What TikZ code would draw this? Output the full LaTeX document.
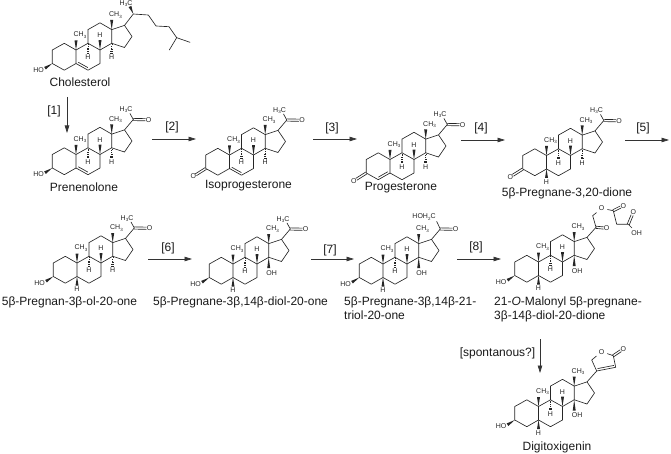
\documentclass[tikz,border=0pt]{standalone}
\usepackage{fontspec}
\setmainfont{Liberation Sans}
\usetikzlibrary{calc,arrows.meta}
\tikzset{
  bond/.style={line width=0.65pt,line cap=round,line join=round,draw=black!85},
  atom/.style={font=\fontsize{7}{8}\selectfont,inner sep=0pt,text=black!85},
  caption/.style={font=\fontsize{12}{14}\selectfont,inner sep=0pt,text=black!90},
  stepno/.style={font=\fontsize{12}{14}\selectfont,inner sep=0pt,text=black!90},
  rxn/.style={line width=0.7pt,draw=black!80,-{Triangle[length=7.5pt,width=4.5pt]}},
}
\newcommand\lowidx[1]{\raisebox{-1.2pt}{\fontsize{4.5}{5}\selectfont #1}}
% wedge and hash bonds
\newcommand\wedgeb[2]{\fill[black!85] (#1) -- ($(#2)!1.5pt!90:(#1)$) -- ($(#2)!1.5pt!-90:(#1)$) -- cycle;}
\newcommand\hashb[2]{\foreach \t in {0.12,0.28,0.44,0.60,0.76,0.92}{%
  \draw[line width=0.5pt,draw=black!85] ($(#1)!\t!(#2)!{\t*1.6pt}!90:(#2)$) -- ($(#1)!\t!(#2)!{\t*1.6pt}!-90:(#2)$);}}
% ring double bond: second line to one side
\newcommand\ringdbl[3]{\draw[bond,shorten >=1.5pt,shorten <=1.5pt] ($(#1)!2.2pt!#3:(#2)$) -- ($(#2)!2.2pt!-#3:(#1)$);}
% carbonyl: two lines from carbon to a named O node
\newcommand\carbonyl[2]{%
  \draw[bond,shorten >=3.2pt] ($(#1)!1.1pt!90:(#2)$) -- ($(#2)!1.1pt!-90:(#1)$);
  \draw[bond,shorten >=3.2pt] ($(#1)!1.1pt!-90:(#2)$) -- ($(#2)!1.1pt!90:(#1)$);}
% the four-ring skeleton
\newcommand\mol[4]{\begin{scope}[shift={(#2,#3)}]\def\P{#1}
  \coordinate (\P-c10) at (0,0);
  \coordinate (\P-c1) at (-11.7,-6.7);
  \coordinate (\P-c2) at (-23.7,0);
  \coordinate (\P-c3) at (-23.7,13.5);
  \coordinate (\P-c4) at (-11.7,20.2);
  \coordinate (\P-c5) at (0,13.5);
  \coordinate (\P-c6) at (12,20.2);
  \coordinate (\P-c7) at (24,13.5);
  \coordinate (\P-c8) at (24,0);
  \coordinate (\P-c9) at (12,-6.7);
  \coordinate (\P-c11) at (12,-20.4);
  \coordinate (\P-c12) at (24,-27.2);
  \coordinate (\P-c13) at (35.7,-20.4);
  \coordinate (\P-c14) at (35.7,-6.7);
  \coordinate (\P-c15) at (48.5,-2.5);
  \coordinate (\P-c16) at (56,-13.5);
  \coordinate (\P-c17) at (48.5,-24.6);
  \draw[bond] (\P-c10) -- (\P-c1) -- (\P-c2) -- (\P-c3) -- (\P-c4) -- (\P-c5) -- (\P-c10)
    -- (\P-c9) -- (\P-c8) -- (\P-c7) -- (\P-c6) -- (\P-c5);
  \draw[bond] (\P-c9) -- (\P-c11) -- (\P-c12) -- (\P-c13) -- (\P-c14) -- (\P-c8);
  \draw[bond] (\P-c13) -- (\P-c17) -- (\P-c16) -- (\P-c15) -- (\P-c14);
  % angular methyls and H8, H9
  \coordinate (\P-m10) at (0,-9.5); \wedgeb{\P-c10}{\P-m10}
  \coordinate (\P-m13) at (35.7,-30); \wedgeb{\P-c13}{\P-m13}
  \node[atom] (\P-ch3a) at (4,-15) {CH\lowidx{3}};
  \node[atom] (\P-ch3b) at (39.5,-35) {CH\lowidx{3}};
  \coordinate (\P-h9e) at (12,3.8); \hashb{\P-c9}{\P-h9e}
  \node[atom] (\P-h9) at (12,7.5) {H};
  \coordinate (\P-h8e) at (24,-9.8); \wedgeb{\P-c8}{\P-h8e}
  \node[atom] (\P-h8) at (24,-14.5) {H};
  #4
\end{scope}}
% decorations, used inside \mol
\newcommand\hfourteen{\coordinate (\P-h14e) at (35.7,3.8); \hashb{\P-c14}{\P-h14e}
  \node[atom] (\P-h14) at (35.7,7.5) {H};}
\newcommand\ohfourteen{\coordinate (\P-o14e) at (35.7,4.2); \wedgeb{\P-c14}{\P-o14e}
  \node[atom] (\P-oh14) at (38.7,8.6) {OH};}
\newcommand\hfive{\coordinate (\P-h5e) at (0,22.5); \wedgeb{\P-c5}{\P-h5e}
  \node[atom] (\P-h5) at (0,26.5) {H};}
\newcommand\hothree{\coordinate (\P-o3e) at (-31,18.2); \wedgeb{\P-c3}{\P-o3e}
  \node[atom] (\P-oh3) at (-37.5,19.6) {HO};}
\newcommand\ketothree{\node[atom] (\P-o3) at (-36.2,21.4) {O}; \carbonyl{\P-c3}{\P-o3}}
\newcommand\dblfivesix{\ringdbl{\P-c5}{\P-c6}{90}}
\newcommand\dblfourfive{\ringdbl{\P-c4}{\P-c5}{90}}
\newcommand\acetyl{\coordinate (\P-c20) at (57.3,-35);
  \draw[bond] (\P-c17) -- (\P-c20);
  \coordinate (\P-c21) at (54,-41); \draw[bond] (\P-c20) -- (\P-c21);
  \node[atom] (\P-me) at (50,-44.7) {H\lowidx{3}C};
  \node[atom] (\P-o20) at (72.5,-34.7) {O}; \carbonyl{\P-c20}{\P-o20}}
\newcommand\hydroxyacetyl{\coordinate (\P-c20) at (57.3,-35);
  \draw[bond] (\P-c17) -- (\P-c20);
  \coordinate (\P-c21) at (53.7,-42.5); \draw[bond] (\P-c20) -- (\P-c21);
  \node[atom] (\P-me) at (41,-47) {HOH\lowidx{2}C};
  \node[atom] (\P-o20) at (72.5,-34.7) {O}; \carbonyl{\P-c20}{\P-o20}}
\newcommand\cholchain{\coordinate (\P-c20) at (57.3,-36);
  \coordinate (\P-c21) at (54,-43.5); \wedgeb{\P-c20}{\P-c21}
  \node[atom] (\P-me) at (50,-46.7) {H\lowidx{3}C};
  \coordinate (\P-c22) at (72.3,-35);
  \coordinate (\P-c23) at (80,-24);
  \coordinate (\P-c24) at (93,-23.3);
  \coordinate (\P-c25) at (100.7,-12.3);
  \coordinate (\P-c26) at (93.3,0);
  \coordinate (\P-c27) at (114,-7.7);
  \draw[bond] (\P-c17) -- (\P-c20) -- (\P-c22) -- (\P-c23) -- (\P-c24) -- (\P-c25) -- (\P-c26);
  \draw[bond] (\P-c25) -- (\P-c27);}
\newcommand\malonyl{\coordinate (\P-c20) at (57.5,-34.7);
  \draw[bond] (\P-c17) -- (\P-c20);
  \node[atom] (\P-o20) at (68.2,-33.7) {O}; \carbonyl{\P-c20}{\P-o20}
  \coordinate (\P-c21) at (54.2,-46.3);
  \node[atom] (\P-oe) at (63.2,-53.7) {O};
  \coordinate (\P-ca) at (74.8,-51.3);
  \node[atom] (\P-oa) at (84.8,-56.3) {O};
  \coordinate (\P-cb) at (78.2,-37.7);
  \coordinate (\P-cc) at (89.8,-37.7);
  \node[atom] (\P-ob) at (94.8,-49.7) {O};
  \node[atom] (\P-oh) at (98.2,-29.3) {OH};
  \draw[bond,shorten >=3pt] (\P-c20) -- (\P-c21) -- (\P-oe);
  \draw[bond,shorten <=3pt,shorten >=3pt] (\P-oe) -- (\P-ca) -- (\P-cb) -- (\P-cc) -- (\P-oh);
  \carbonyl{\P-ca}{\P-oa}
  \carbonyl{\P-cc}{\P-ob}}
\newcommand\butenolide{\coordinate (\P-c20) at (58.2,-35.5);
  \draw[bond] (\P-c17) -- (\P-c20);
  \coordinate (\P-c21) at (53.2,-46.5);
  \node[atom] (\P-oe) at (63.2,-54.8) {O};
  \coordinate (\P-ca) at (74.8,-50.8);
  \coordinate (\P-cb) at (77.2,-39.2);
  \node[atom] (\P-oa) at (84.8,-57.5) {O};
  \draw[bond,shorten >=3pt] (\P-c20) -- (\P-c21) -- (\P-oe);
  \draw[bond,shorten <=3pt] (\P-oe) -- (\P-ca) -- (\P-cb) -- (\P-c20);
  \ringdbl{\P-c20}{\P-cb}{90}
  \carbonyl{\P-ca}{\P-oa}}
\begin{document}
\begin{tikzpicture}[x=1pt,y=-1pt]
\useasboundingbox (0,0) rectangle (671,454);
\mol{chol}{76}{50}{\hfourteen\hothree\dblfivesix\cholchain}
\mol{pren}{76}{154.5}{\hfourteen\hothree\dblfivesix\acetyl}
\mol{isop}{229.5}{155}{\hfourteen\ketothree\dblfivesix\acetyl}
\mol{prog}{390}{159.5}{\hfourteen\ketothree\dblfourfive\acetyl}
\mol{pdio}{546.5}{155.5}{\hfourteen\ketothree\hfive\acetyl}
\mol{pol}{77}{263}{\hfourteen\hothree\hfive\acetyl}
\mol{diol}{233}{264}{\ohfourteen\hothree\hfive\acetyl}
\mol{triol}{383}{264}{\ohfourteen\hothree\hfive\hydroxyacetyl}
\mol{malo}{538.5}{262}{\ohfourteen\hothree\hfive\malonyl}
\mol{digi}{538.5}{406.5}{\ohfourteen\hothree\hfive\butenolide}
% captions
\node[caption] (tchol) at (80,82) {Cholesterol};
\node[caption] (tpren) at (84,187) {Prenenolone};
\node[caption] (tisop) at (248.5,186) {Isoprogesterone};
\node[caption] (tprog) at (401,188) {Progesterone};
\node[caption] (tpdio) at (567,193) {5β-Pregnane-3,20-dione};
\node[caption] (tpol) at (69.5,302) {5β-Pregnan-3β-ol-20-one};
\node[caption] (tdiol) at (240.5,302) {5β-Pregnane-3β,14β-diol-20-one};
\node[caption,align=left,anchor=north west] (ttriol) at (344,296.5) {5β-Pregnane-3β,14β-21-\\triol-20-one};
\node[caption,align=left,anchor=north west] (tmalo) at (494,296.5) {21-\textit{O}-Malonyl 5β-pregnane-\\3β-14β-diol-20-dione};
\node[caption] (tdigi) at (557,447) {Digitoxigenin};
% reaction arrows
\coordinate (a1s) at (67,97);  \coordinate (a1e) at (67,133);
\coordinate (a2s) at (152,139); \coordinate (a2e) at (196,139);
\coordinate (a3s) at (313,139); \coordinate (a3e) at (357,139);
\coordinate (a4s) at (461,140); \coordinate (a4e) at (505,140);
\coordinate (a5s) at (625,140); \coordinate (a5e) at (669,140);
\coordinate (a6s) at (148,259); \coordinate (a6e) at (192,259);
\coordinate (a7s) at (311,259); \coordinate (a7e) at (354,259);
\coordinate (a8s) at (457,259); \coordinate (a8e) at (501,259);
\coordinate (a9s) at (540,339); \coordinate (a9e) at (540,373);
\foreach \k in {1,...,9}{\draw[rxn] (a\k s) -- (a\k e);}
\node[stepno] (s1) at (54,111) {[1]};
\node[stepno] (s2) at (172,127) {[2]};
\node[stepno] (s3) at (332,128) {[3]};
\node[stepno] (s4) at (481,128) {[4]};
\node[stepno] (s5) at (643,128) {[5]};
\node[stepno] (s6) at (168,248) {[6]};
\node[stepno] (s7) at (330,250) {[7]};
\node[stepno] (s8) at (476,247) {[8]};
\node[stepno] (s9) at (497.5,353) {[spontanous?]};
\end{tikzpicture}
\end{document}
